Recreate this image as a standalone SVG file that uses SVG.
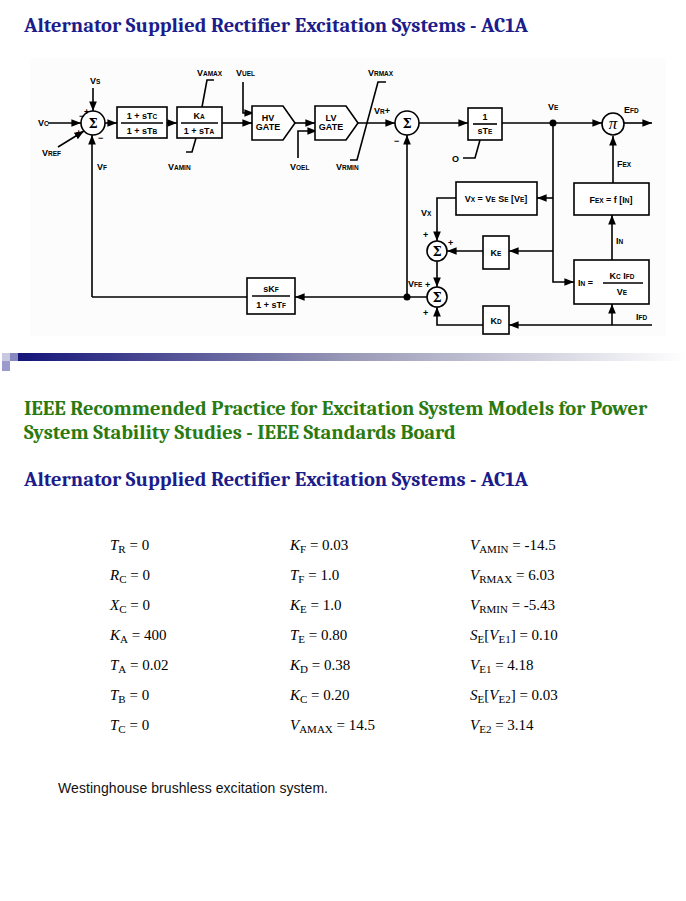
<svg xmlns="http://www.w3.org/2000/svg" width="686" height="901" viewBox="0 0 686 901">
<defs>
<marker id="ar" viewBox="0 0 10 10" refX="10" refY="5" markerWidth="6" markerHeight="6" orient="auto"><path d="M0,1 L10,5 L0,9 z" fill="#000"/></marker>
<linearGradient id="bar" x1="0" x2="1" y1="0" y2="0"><stop offset="0" stop-color="#14147a"/><stop offset="0.5" stop-color="#9a9ab8"/><stop offset="1" stop-color="#ffffff"/></linearGradient>
<style>
.t{font-family:"Cambria","Liberation Serif",serif;font-weight:bold;font-size:20.5px}
.nv{fill:#1c1c8a}.gr{fill:#2a7a10}
.l{font-family:"Liberation Sans",Arial,sans-serif;font-weight:bold;font-size:9px;fill:#000}
.s{font-size:6.5px}
.b{fill:#fff;stroke:#000;stroke-width:1.6}
.w{fill:none;stroke:#000;stroke-width:1.6}
.a{fill:none;stroke:#000;stroke-width:1.6;marker-end:url(#ar)}
.p{font-family:"Liberation Serif","Times New Roman",serif;font-size:15px;fill:#000}
.sg{font-family:"DejaVu Serif",serif;font-weight:bold;font-size:13px}
</style>
</defs>
<rect width="686" height="901" fill="#fff"/>
<text x="24" y="32" class="t nv">Alternator Supplied Rectifier Excitation Systems - AC1A</text>
<rect x="30" y="58" width="636" height="278" fill="#fcfcfc"/>

<g id="connectors">
<path class="a" d="M48,123 H81"/>
<path class="a" d="M93,88 V111"/>
<path class="a" d="M58,147 L84,131"/>
<path class="a" d="M105,123 H117"/>
<path class="a" d="M167,123 H177"/>
<path class="a" d="M222,123 H252"/>
<path class="w" d="M202,107 L207,80 H214"/>
<path class="w" d="M196,138 L192,152 H186"/>
<path class="a" d="M243,82 V113 H254"/>
<path class="a" d="M295,123 H315"/>
<path class="a" d="M298,158 V131 H317"/>
<path class="a" d="M358,123 H395"/>
<path class="w" d="M350,160 H357 L378,82 H386"/>
<path class="a" d="M419,123 H468"/>
<path class="a" d="M502,123 H602"/>
<path class="w" d="M480,140 L475,158 H463"/>
<path class="a" d="M624,123 H652"/>
<path class="a" d="M613,183 V136"/>
<path class="a" d="M553,123 V282 H574"/>
<path class="a" d="M553,198 H537"/>
<path class="a" d="M553,251 H509"/>
<path class="a" d="M483,251 H447"/>
<path class="a" d="M456,198 H437 V241"/>
<path class="a" d="M437,261 V287"/>
<path class="a" d="M612,260 V215"/>
<path class="a" d="M652,325 H509"/>
<path class="a" d="M612,325 V304"/>
<path class="a" d="M483,325 H437 V307"/>
<path class="a" d="M427,297 H295"/>
<path class="w" d="M247,297 H92"/>
<path class="a" d="M92,297 V135"/>
<path class="a" d="M407,297 V135"/>
<circle cx="407" cy="297" r="3.5" fill="#000"/>
<circle cx="553" cy="123" r="3.5" fill="#000"/>
</g>

<g id="sum1"><circle class="b" cx="93" cy="123" r="12"/><text x="93" y="128" class="sg" text-anchor="middle">Σ</text>
<text x="84" y="115" class="l">+</text><text x="79" y="119" class="l">−</text><text x="76" y="136" class="l">+</text><text x="98" y="141" class="l">−</text></g>
<text x="38" y="126" class="l">V<tspan class="s">C</tspan></text>
<text x="90" y="84" class="l">V<tspan class="s">S</tspan></text>
<text x="42" y="156" class="l">V<tspan class="s">REF</tspan></text>
<text x="97" y="170" class="l">V<tspan class="s">F</tspan></text>

<g id="lead"><rect class="b" x="117" y="107" width="50" height="31"/><text x="142" y="119" class="l" text-anchor="middle">1 + sT<tspan class="s">C</tspan></text><path class="w" d="M121,123 H163"/><text x="142" y="134" class="l" text-anchor="middle">1 + sT<tspan class="s">B</tspan></text></g>
<g id="ka"><rect class="b" x="177" y="107" width="45" height="31"/><text x="199" y="119" class="l" text-anchor="middle">K<tspan class="s">A</tspan></text><path class="w" d="M181,123 H218"/><text x="199" y="134" class="l" text-anchor="middle">1 + sT<tspan class="s">A</tspan></text></g>
<text x="197" y="76" class="l">V<tspan class="s">AMAX</tspan></text>
<text x="168" y="170" class="l">V<tspan class="s">AMIN</tspan></text>
<text x="236" y="76" class="l">V<tspan class="s">UEL</tspan></text>
<g id="hv"><path class="b" d="M252,106 H283 L295,123 L283,140 H252 Z"/><text x="268" y="121" class="l" text-anchor="middle">HV</text><text x="268" y="130" class="l" text-anchor="middle">GATE</text></g>
<g id="lv"><path class="b" d="M315,106 H346 L358,123 L346,140 H315 Z"/><text x="331" y="121" class="l" text-anchor="middle">LV</text><text x="331" y="130" class="l" text-anchor="middle">GATE</text></g>
<text x="290" y="170" class="l">V<tspan class="s">OEL</tspan></text>
<text x="336" y="170" class="l">V<tspan class="s">RMIN</tspan></text>
<text x="368" y="76" class="l">V<tspan class="s">RMAX</tspan></text>
<text x="374" y="114" class="l">V<tspan class="s">R</tspan>+</text>

<g id="sum2"><circle class="b" cx="407" cy="123" r="12"/><text x="407" y="128" class="sg" text-anchor="middle">Σ</text><text x="394" y="144" class="l">−</text></g>
<g id="te"><rect class="b" x="468" y="108" width="34" height="32"/><text x="485" y="120" class="l" text-anchor="middle">1</text><path class="w" d="M473,124 H497"/><text x="485" y="134" class="l" text-anchor="middle">sT<tspan class="s">E</tspan></text></g>
<text x="452" y="162" class="l" font-size="10">O</text>
<text x="548" y="110" class="l">V<tspan class="s">E</tspan></text>
<g id="pi"><circle class="b" cx="613" cy="124" r="11"/><text x="613" y="129" font-family="Liberation Serif, serif" font-size="17" font-style="italic" text-anchor="middle">π</text></g>
<text x="624" y="113" class="l">E<tspan class="s">FD</tspan></text>
<text x="617" y="167" class="l">F<tspan class="s">EX</tspan></text>

<g id="vx"><rect class="b" x="456" y="182" width="81" height="33"/><text x="496" y="202" class="l" text-anchor="middle">V<tspan class="s">X</tspan> = V<tspan class="s">E</tspan> S<tspan class="s">E</tspan> [V<tspan class="s">E</tspan>]</text></g>
<text x="421" y="216" class="l">V<tspan class="s">X</tspan></text>
<g id="fex"><rect class="b" x="574" y="183" width="75" height="32"/><text x="611" y="203" class="l" text-anchor="middle">F<tspan class="s">EX</tspan> = f [I<tspan class="s">N</tspan>]</text></g>
<text x="616" y="244" class="l">I<tspan class="s">N</tspan></text>
<g id="sum3"><circle class="b" cx="437" cy="251" r="10"/><text x="437" y="256" class="sg" text-anchor="middle">Σ</text><text x="423" y="238" class="l">+</text><text x="448" y="246" class="l">+</text></g>
<g id="ke"><rect class="b" x="483" y="236" width="26" height="33"/><text x="496" y="256" class="l" text-anchor="middle">K<tspan class="s">E</tspan></text></g>
<g id="in"><rect class="b" x="574" y="260" width="75" height="44"/><text x="578" y="286" class="l">I<tspan class="s">N</tspan> =</text><text x="622" y="279" class="l" text-anchor="middle">K<tspan class="s">C</tspan> I<tspan class="s">FD</tspan></text><path class="w" d="M603,283 H643"/><text x="622" y="295" class="l" text-anchor="middle">V<tspan class="s">E</tspan></text></g>
<g id="sum4"><circle class="b" cx="437" cy="297" r="10"/><text x="437" y="302" class="sg" text-anchor="middle">Σ</text><text x="425" y="288" class="l">+</text><text x="423" y="316" class="l">+</text></g>
<text x="408" y="287" class="l">V<tspan class="s">FE</tspan></text>
<g id="kd"><rect class="b" x="483" y="306" width="26" height="28"/><text x="496" y="324" class="l" text-anchor="middle">K<tspan class="s">D</tspan></text></g>
<text x="636" y="320" class="l">I<tspan class="s">FD</tspan></text>
<g id="kf"><rect class="b" x="247" y="278" width="48" height="36"/><text x="271" y="292" class="l" text-anchor="middle">sK<tspan class="s">F</tspan></text><path class="w" d="M252,296 H290"/><text x="271" y="308" class="l" text-anchor="middle">1 + sT<tspan class="s">F</tspan></text></g>

<rect x="18" y="353" width="668" height="8" fill="url(#bar)"/>
<rect x="2" y="353" width="8" height="8" fill="#c8c8e0"/>
<rect x="10" y="353" width="8" height="8" fill="#8888c0"/>
<rect x="2" y="361" width="8" height="10" fill="#9a9acc"/>

<text x="24" y="415" class="t gr">IEEE Recommended Practice for Excitation System Models for Power</text>
<text x="24" y="439" class="t gr">System Stability Studies - IEEE Standards Board</text>
<text x="24" y="486" class="t nv">Alternator Supplied Rectifier Excitation Systems - AC1A</text>

<g class="p">
<text x="110" y="550"><tspan font-style="italic">T</tspan><tspan font-size="11" dy="3">R</tspan><tspan dy="-3"> = 0</tspan></text>
<text x="110" y="580"><tspan font-style="italic">R</tspan><tspan font-size="11" dy="3">C</tspan><tspan dy="-3"> = 0</tspan></text>
<text x="110" y="610"><tspan font-style="italic">X</tspan><tspan font-size="11" dy="3">C</tspan><tspan dy="-3"> = 0</tspan></text>
<text x="110" y="640"><tspan font-style="italic">K</tspan><tspan font-size="11" dy="3">A</tspan><tspan dy="-3"> = 400</tspan></text>
<text x="110" y="670"><tspan font-style="italic">T</tspan><tspan font-size="11" dy="3">A</tspan><tspan dy="-3"> = 0.02</tspan></text>
<text x="110" y="700"><tspan font-style="italic">T</tspan><tspan font-size="11" dy="3">B</tspan><tspan dy="-3"> = 0</tspan></text>
<text x="110" y="730"><tspan font-style="italic">T</tspan><tspan font-size="11" dy="3">C</tspan><tspan dy="-3"> = 0</tspan></text>
<text x="290" y="550"><tspan font-style="italic">K</tspan><tspan font-size="11" dy="3">F</tspan><tspan dy="-3"> = 0.03</tspan></text>
<text x="290" y="580"><tspan font-style="italic">T</tspan><tspan font-size="11" dy="3">F</tspan><tspan dy="-3"> = 1.0</tspan></text>
<text x="290" y="610"><tspan font-style="italic">K</tspan><tspan font-size="11" dy="3">E</tspan><tspan dy="-3"> = 1.0</tspan></text>
<text x="290" y="640"><tspan font-style="italic">T</tspan><tspan font-size="11" dy="3">E</tspan><tspan dy="-3"> = 0.80</tspan></text>
<text x="290" y="670"><tspan font-style="italic">K</tspan><tspan font-size="11" dy="3">D</tspan><tspan dy="-3"> = 0.38</tspan></text>
<text x="290" y="700"><tspan font-style="italic">K</tspan><tspan font-size="11" dy="3">C</tspan><tspan dy="-3"> = 0.20</tspan></text>
<text x="290" y="730"><tspan font-style="italic">V</tspan><tspan font-size="11" dy="3">AMAX</tspan><tspan dy="-3"> = 14.5</tspan></text>
<text x="470" y="550"><tspan font-style="italic">V</tspan><tspan font-size="11" dy="3">AMIN</tspan><tspan dy="-3"> = -14.5</tspan></text>
<text x="470" y="580"><tspan font-style="italic">V</tspan><tspan font-size="11" dy="3">RMAX</tspan><tspan dy="-3"> = 6.03</tspan></text>
<text x="470" y="610"><tspan font-style="italic">V</tspan><tspan font-size="11" dy="3">RMIN</tspan><tspan dy="-3"> = -5.43</tspan></text>
<text x="470" y="640"><tspan font-style="italic">S</tspan><tspan font-size="11" dy="3">E</tspan><tspan dy="-3">[</tspan><tspan font-style="italic">V</tspan><tspan font-size="11" dy="3">E1</tspan><tspan dy="-3">] = 0.10</tspan></text>
<text x="470" y="670"><tspan font-style="italic">V</tspan><tspan font-size="11" dy="3">E1</tspan><tspan dy="-3"> = 4.18</tspan></text>
<text x="470" y="700"><tspan font-style="italic">S</tspan><tspan font-size="11" dy="3">E</tspan><tspan dy="-3">[</tspan><tspan font-style="italic">V</tspan><tspan font-size="11" dy="3">E2</tspan><tspan dy="-3">] = 0.03</tspan></text>
<text x="470" y="730"><tspan font-style="italic">V</tspan><tspan font-size="11" dy="3">E2</tspan><tspan dy="-3"> = 3.14</tspan></text>
</g>
<text x="58" y="793" font-family="Liberation Sans Narrow, Liberation Sans, Arial, sans-serif" font-size="14" fill="#111" textLength="270">Westinghouse brushless excitation system.</text>
</svg>
